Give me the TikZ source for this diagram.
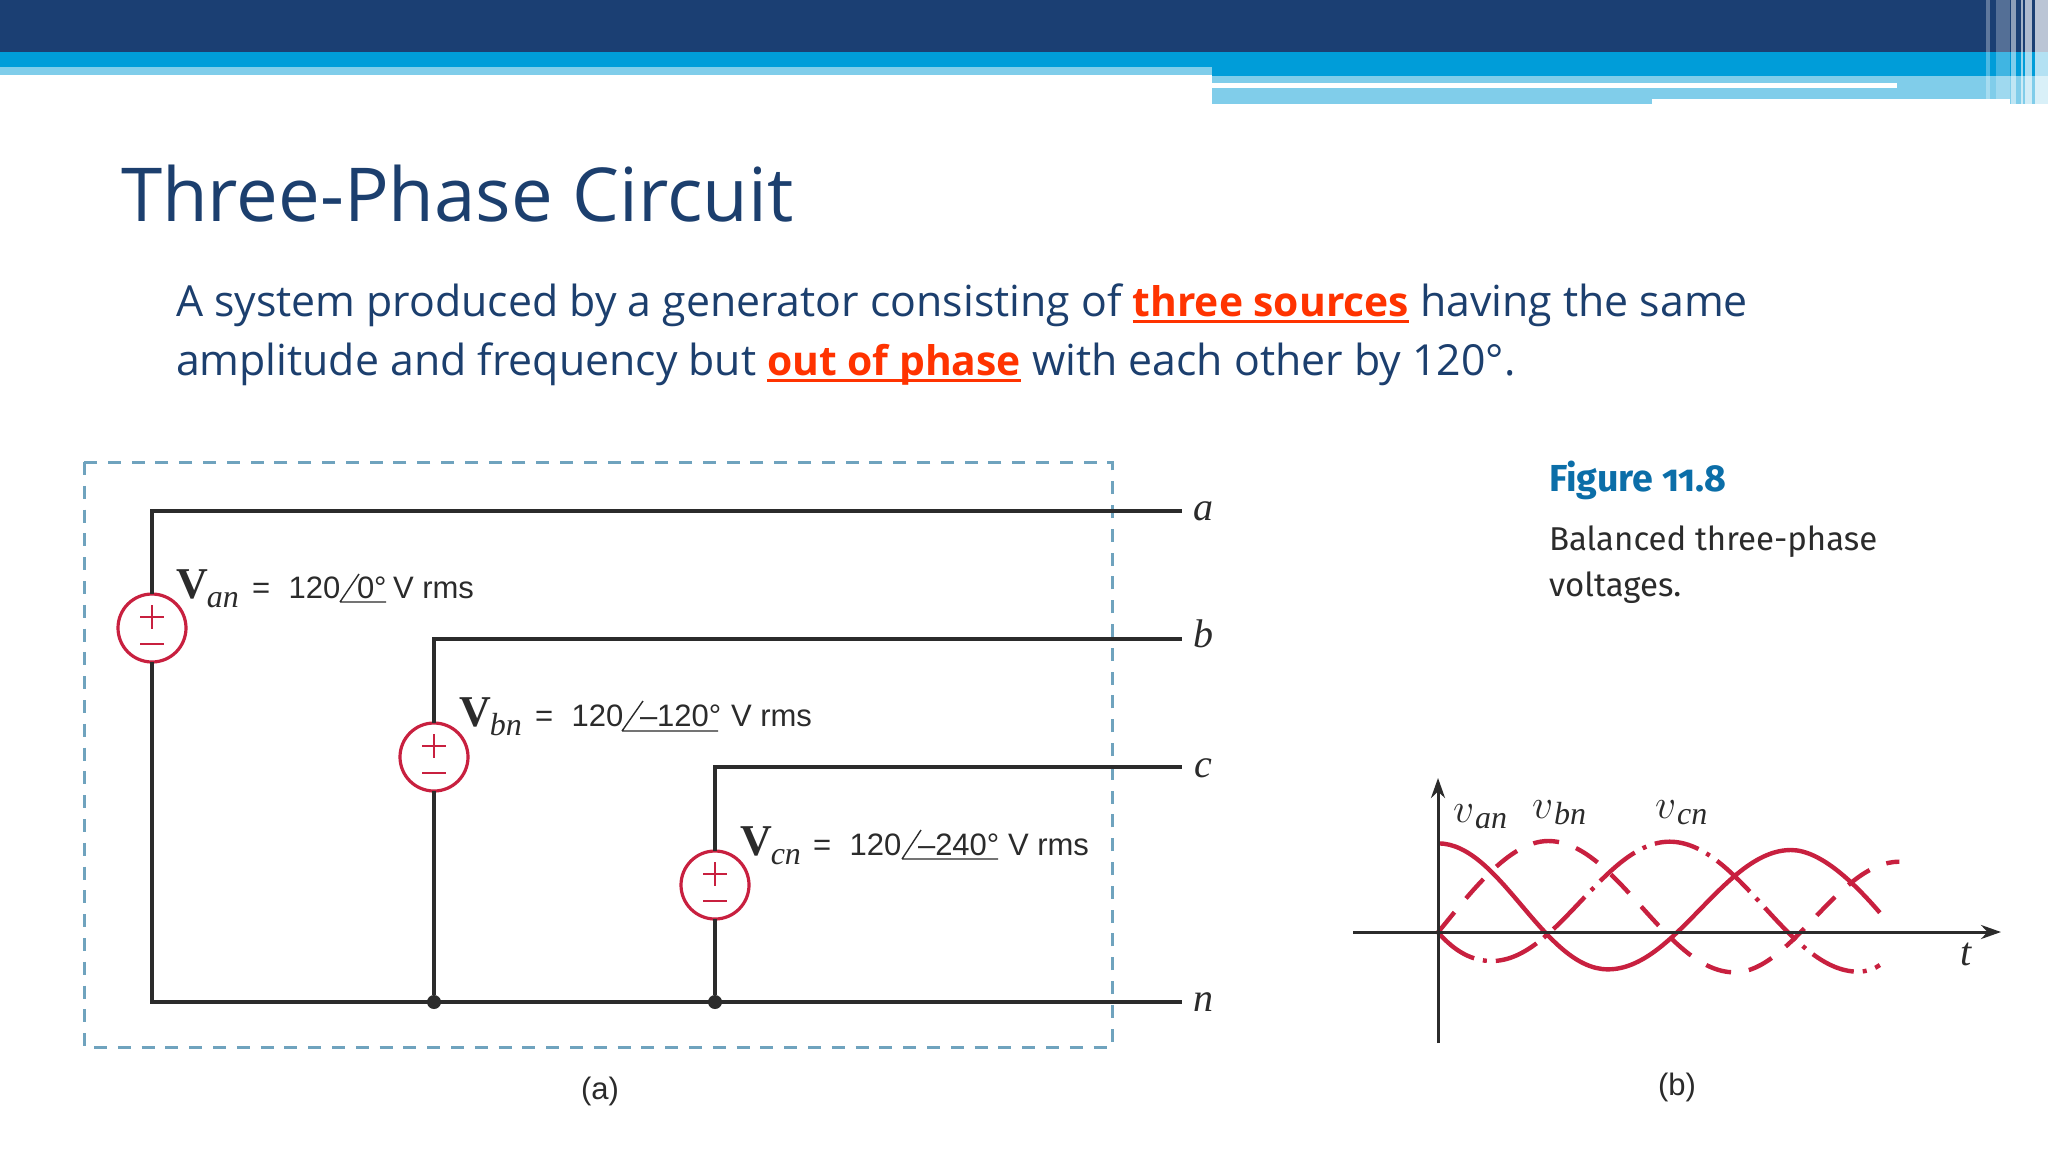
\documentclass[tikz,border=0pt]{standalone}
\usepackage{fontspec}
\setmainfont{Open Sans}
\newfontfamily\timesf{Liberation Serif}
\newfontfamily\arialf{Liberation Sans}
\newfontfamily\figf[Numbers=OldStyle]{Fira Sans}
\usetikzlibrary{arrows.meta}
\definecolor{navy}{HTML}{1B3F73}
\definecolor{midblue}{HTML}{009DD9}
\definecolor{lightblue}{HTML}{80CDEA}
\definecolor{bodyblue}{HTML}{1C3F6E}
\definecolor{hot}{HTML}{FF3300}
\definecolor{wire}{HTML}{2B2B2B}
\definecolor{crim}{HTML}{C8203F}
\definecolor{boxblue}{HTML}{6FA3BE}
\definecolor{figblue}{HTML}{0B6EA8}
\tikzset{
 txt/.style={inner sep=0pt,outer sep=0pt,anchor=base west},
 title/.style={txt,font=\fontsize{37.2}{37.2}\selectfont,text=bodyblue},
 bodytext/.style={txt,font=\fontsize{21.4}{21.4}\selectfont,text=bodyblue},
 wireline/.style={draw=wire,line width=1.7pt},
 src/.style={circle,draw=crim,line width=1.6pt,minimum size=34pt,inner sep=0pt,outer sep=0pt},
 jdot/.style={circle,fill=wire,minimum size=7pt,inner sep=0pt,outer sep=0pt},
 vlab/.style={txt,text=wire,font=\timesf\fontsize{22}{22}\selectfont},
 ital/.style={txt,text=wire,font=\timesf\itshape\fontsize{20}{20}\selectfont},
 sans/.style={txt,text=wire,font=\arialf\fontsize{15.5}{15.5}\selectfont},
 angle/.style={draw=wire,line width=0.7pt},
 axis/.style={draw=wire,line width=1.5pt,-{Stealth[length=10pt,width=7pt]}},
 wave/.style={draw=crim,line width=2.2pt},
 figlab/.style={txt,text=wire,font=\figf\fontsize{16.5}{16.5}\selectfont},
}
\newcommand{\Vsub}[2]{\textbf{#1}\kern-0.5pt\raisebox{-4.5pt}{\fontsize{16}{16}\selectfont\itshape #2}}
\newcommand{\vsub}[2]{$#1$\kern0.5pt\raisebox{-3pt}{\timesf\fontsize{16}{16}\selectfont\itshape #2}}
\newcommand{\hotul}[1]{\sbox0{\bfseries\fontsize{20.4}{20.4}\selectfont\color{hot}#1}\rlap{\color{hot}\rule[-3.5pt]{\wd0}{1.6pt}}\usebox0}
\begin{document}
\begin{tikzpicture}[x=0.5pt,y=-0.5pt]
\useasboundingbox (0,0) rectangle (2048,1152);
\fill[white] (0,0) rectangle (2048,1152);
% header
\fill[lightblue] (0,67) rectangle (1212,75);
\fill[lightblue] (1212,76) rectangle (2048,104);
\fill[white] (1652,99) rectangle (2010,105);
\fill[white] (1212,83) rectangle (1897,88);
\fill[midblue] (0,52) rectangle (1212,67);
\fill[midblue] (1212,52) rectangle (2048,76);
\fill[navy] (0,0) rectangle (2048,52);
\fill[white,opacity=.3] (1986,0) rectangle (1990,99);
\fill[white,opacity=.25] (1996,0) rectangle (2010,99);
\fill[white,opacity=.5] (2011,0) rectangle (2016,104);
\fill[white,opacity=.6] (2021,0) rectangle (2023,104);
\fill[white,opacity=.65] (2025,0) rectangle (2032,104);
\fill[white,opacity=.7] (2035,0) rectangle (2048,104);
% title and body
\node[title] (ttl) at (121,221) {Three-Phase Circuit};
\node[bodytext] (l1) at (176,316) {A system produced by a generator consisting of \hotul{three sources} having the same};
\node[bodytext] (l2) at (176,375) {amplitude and frequency but \hotul{out of phase} with each other by 120°.};
% circuit
\draw[boxblue,line width=1.5pt,dash pattern=on 6.5pt off 5.4pt] (84,462) rectangle (1112,1047);
\coordinate (ea) at (1182,511);
\coordinate (eb) at (1182,639);
\coordinate (ec) at (1182,767);
\coordinate (en) at (1182,1002);
\node[src] (sa) at (152,628) {};
\node[src] (sb) at (434,757) {};
\node[src] (sc) at (715,885) {};
\node[jdot] (jb) at (434,1002) {};
\node[jdot] (jc) at (715,1002) {};
\draw[wireline] (sa.north) -- (sa.north |- ea) -- (ea);
\draw[wireline] (sb.north) -- (sb.north |- eb) -- (eb);
\draw[wireline] (sc.north) -- (sc.north |- ec) -- (ec);
\draw[wireline] (sa.south) -- (sa.south |- en) -- (en);
\draw[wireline] (sb.south) -- (jb);
\draw[wireline] (sc.south) -- (jc);
\foreach \s in {sa,sb,sc}{
 \draw[crim,line width=0.6pt] ([shift={(-12,-11)}]\s.center) -- ([shift={(12,-11)}]\s.center);
 \draw[crim,line width=0.6pt] ([shift={(0,-23)}]\s.center) -- ([shift={(0,1)}]\s.center);
 \draw[crim,line width=1.3pt] ([shift={(-12,16)}]\s.center) -- ([shift={(12,16)}]\s.center);
}
\node[ital] (la) at (1193,520) {a};
\node[ital] (lb) at (1193,647) {b};
\node[ital] (lc) at (1194,777) {c};
\node[ital] (ln) at (1193,1011) {n};
% source labels
\node[vlab] (van) at (176,598) {\Vsub{V}{an}};
\node[sans] (vaneq) at (252,598) {= \kern5pt120};
\node[sans] (vana) at (357,598) {0°};
\node[sans] (vanu) at (393,598) {V rms};
\draw[angle] (340,602) -- (359,574) (340,602) -- (386,602);
\node[vlab] (vbn) at (459,726) {\Vsub{V}{bn}};
\node[sans] (vbneq) at (535,726) {= \kern5pt120};
\node[sans] (vbna) at (640,726) {–120°};
\node[sans] (vbnu) at (731,726) {V rms};
\draw[angle] (622,731) -- (643,701) (622,731) -- (718,731);
\node[vlab] (vcn) at (740,855) {\Vsub{V}{cn}};
\node[sans] (vcneq) at (813,855) {= \kern5pt120};
\node[sans] (vcna) at (918,855) {–240°};
\node[sans] (vcnu) at (1008,855) {V rms};
\draw[angle] (902,859) -- (921,830) (902,859) -- (998,859);
\node[txt,anchor=base,text=wire,font=\arialf\fontsize{15.5}{15.5}\selectfont] (capa) at (600,1099) {(a)};
\node[txt,anchor=base,text=wire,font=\arialf\fontsize{15.5}{15.5}\selectfont] (capb) at (1677,1095) {(b)};
% figure caption
\node[txt,text=figblue,font=\figf\bfseries\fontsize{18.8}{18.8}\selectfont] (figt) at (1549,491) {Figure 11.8};
\node[figlab] (f1) at (1549,550) {Balanced three-phase};
\node[figlab] (f2) at (1549,596) {voltages.};
% graph
\coordinate (xs) at (1353,932);
\coordinate (xe) at (2001,932);
\coordinate (ys) at (1438,1043);
\coordinate (ye) at (1438,778);
\begin{scope}[shift={(1340,760)},x=0.2168pt,y=-0.16667pt]
\draw[wave] (226,250) .. controls (370,250) and (470,628) .. (618,628) .. controls (773,628) and (887,270) .. (1040,270) .. controls (1110,270) and (1190,375) .. (1245,458);
\draw[wave,dash pattern=on 13pt off 9pt] (226,517) .. controls (300,400) and (390,243) .. (480,243) .. controls (637,243) and (753,637) .. (910,637) .. controls (1040,637) and (1150,305) .. (1290,305);
\draw[wave,dash pattern=on 22.5pt off 4.5pt on 2pt off 4.5pt] (226,517) .. controls (265,575) and (305,603) .. (350,603) .. controls (500,603) and (610,245) .. (760,245) .. controls (920,245) and (1035,635) .. (1195,635) .. controls (1215,635) and (1235,625) .. (1245,615);
\end{scope}
\draw[axis] (xs) -- (xe);
\draw[axis] (ys) -- (ye);
\node[vlab] (wa) at (1453,822) {\vsub{v}{an}};
\node[vlab] (wb) at (1532,818) {\vsub{v}{bn}};
\node[vlab] (wc) at (1655,818) {\vsub{v}{cn}};
\node[ital] (wt) at (1960,965) {t};
\end{tikzpicture}
\end{document}
